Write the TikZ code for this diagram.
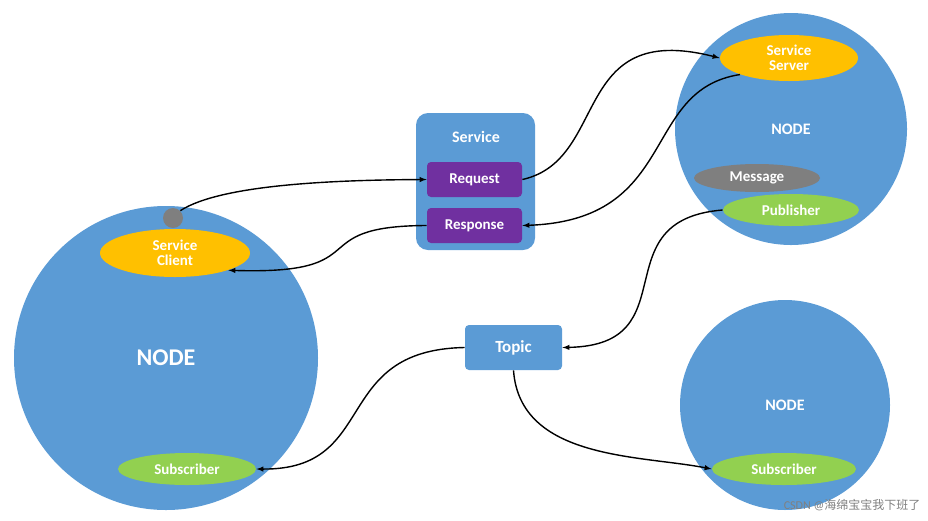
\documentclass[tikz,border=0pt]{standalone}
\usepackage{fontspec}
\setmainfont{Carlito}
\newfontfamily\cjk{Noto Sans CJK SC}
\usetikzlibrary{shapes.geometric}
\definecolor{nodeblue}{HTML}{5B9BD5}
\definecolor{srvyellow}{HTML}{FFC000}
\definecolor{msgpurple}{HTML}{7030A0}
\definecolor{subgreen}{HTML}{92D050}
\definecolor{msggray}{HTML}{7F7F7F}
\begin{document}
\begin{tikzpicture}[x=1pt, y=-1pt, thick]
        % Define styles
        \tikzset{rosnode/.style={circle, fill=nodeblue, inner sep=0pt, font=\bfseries\color{white}},
                 pill/.style={ellipse, inner sep=0pt, font=\bfseries\fontsize{15}{15}\selectfont\color{white}, align=center},
                 tag/.style={rectangle, rounded corners=4pt, inner sep=0pt, font=\bfseries\fontsize{15}{15}\selectfont\color{white}},
                 arrow/.style={->, line width=1.4pt, >=latex}}
        \useasboundingbox (0,0) rectangle (928,520);

        % Nodes
        \node (left) [rosnode, minimum size=304pt, font=\bfseries\fontsize{24}{24}\selectfont\color{white}] at (166,358) {NODE};
        \node (topright) [rosnode, minimum size=232pt, font=\bfseries\fontsize{16}{16}\selectfont\color{white}] at (791,129) {NODE};
        \node (botright) [rosnode, minimum size=210pt, font=\bfseries\fontsize{16}{16}\selectfont\color{white}] at (785,405) {NODE};

        \node (service) [tag, fill=nodeblue, rounded corners=12pt, minimum width=119pt, minimum height=137pt] at (475.5,181.5) {};
        \node [font=\bfseries\fontsize{16}{16}\selectfont\color{white}] at (476,137) {Service};
        \node (request) [tag, fill=msgpurple, minimum width=95pt, minimum height=35pt] at (474.5,179.5) {Request};
        \node (response) [tag, fill=msgpurple, minimum width=95pt, minimum height=35pt] at (474.5,225.5) {Response};
        \node (topic) [tag, fill=nodeblue, minimum width=97pt, minimum height=45pt, font=\bfseries\fontsize{17}{17}\selectfont\color{white}] at (513.5,347.5) {Topic};

        \node (client) [pill, fill=srvyellow, minimum width=150pt, minimum height=48pt] at (175,253) {Service\\Client};
        \node (dot) [circle, fill=msggray, minimum size=20pt, inner sep=0pt] at (173,218) {};
        \node (server) [pill, fill=srvyellow, minimum width=138pt, minimum height=46pt] at (789,58) {Service\\Server};
        \node (message) [pill, fill=msggray, minimum width=126pt, minimum height=28pt] at (757,178) {Message};
        \node (publisher) [pill, fill=subgreen, minimum width=136pt, minimum height=32pt] at (791,210) {Publisher};
        \node (subleft) [pill, fill=subgreen, minimum width=138pt, minimum height=32pt] at (187,469) {Subscriber};
        \node (subright) [pill, fill=subgreen, minimum width=144pt, minimum height=32pt] at (784,469) {Subscriber};

        % Connections
        \draw [arrow] (dot.north east) .. controls (220,185) and (330,180) .. (request.west);
        \draw [arrow] (request.east) .. controls (610,160) and (570,20) .. (server.west);
        \draw [arrow] (server.south west) .. controls (640,90) and (680,220) .. (response.east);
        \draw [arrow] (response.west) .. controls (300,226) and (380,275) .. (client.south east);
        \draw [arrow] (publisher.west) .. controls (600,220) and (690,345) .. (topic.east);
        \draw [arrow] (topic.west) .. controls (330,350) and (380,470) .. (subleft.east);
        \draw [arrow] (topic.south) .. controls (520,460) and (640,455) .. (subright.west);

        % Watermark
        \node (mark) [anchor=east, text=gray, font=\fontsize{12}{12}\selectfont] at (924,505) {CSDN @{\cjk 海绵宝宝我下班了}};
    \end{tikzpicture}
\end{document}
